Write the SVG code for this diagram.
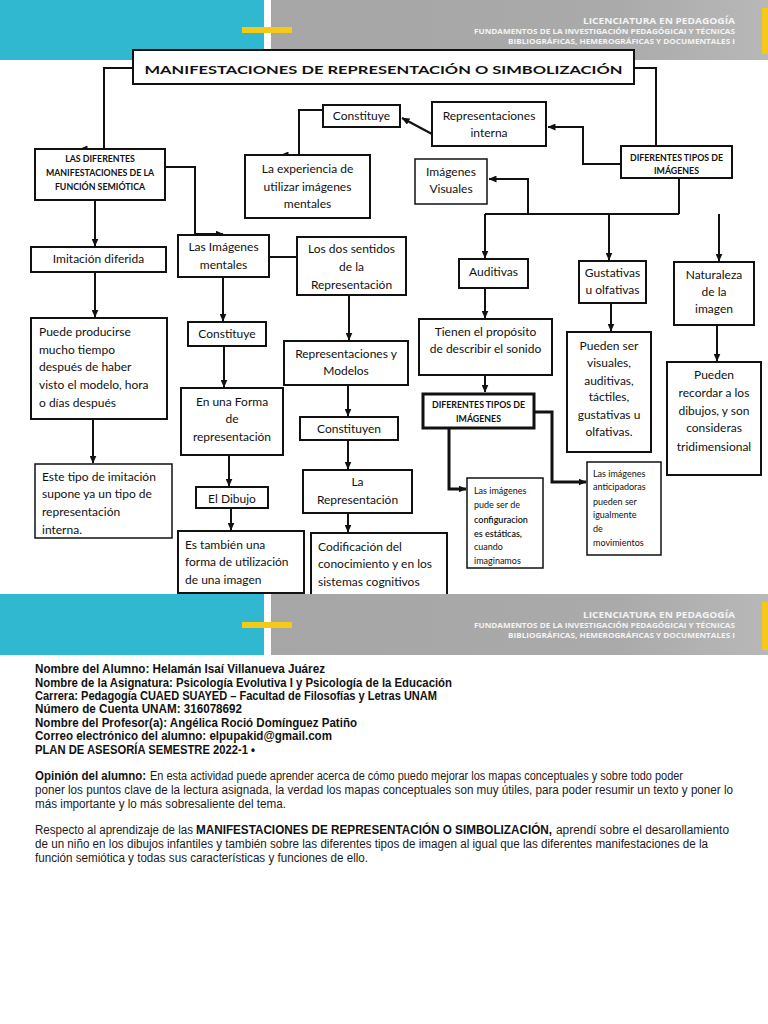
<svg xmlns="http://www.w3.org/2000/svg" width="768" height="1024" viewBox="0 0 768 1024">
<style>
.box{fill:#fff;stroke:#111;stroke-width:2}
.thin{fill:#fff;stroke:#111;stroke-width:1.5}
.thick{fill:#fff;stroke:#111;stroke-width:3}
.c{fill:none;stroke:#111;stroke-width:2}
.ct{fill:none;stroke:#111;stroke-width:3}
.t{font-family:Lato,"Open Sans",sans-serif;font-size:12px;fill:#111}
.m{text-anchor:middle}
.hb{font-family:Lato,"Open Sans",sans-serif;font-size:8.8px;font-weight:bold;fill:#111;text-anchor:middle}
.s{font-family:Lato,"Open Sans",sans-serif;font-size:9px;fill:#111}
.bn{font-family:"Open Sans",sans-serif;font-weight:bold;fill:#f4f4f4;text-anchor:end}
.ft{font-family:"Liberation Sans",Arial,sans-serif;font-size:12px;fill:#1a1a1a}
.fb{font-family:"Liberation Sans",Arial,sans-serif;font-size:12px;font-weight:bold;fill:#111}
</style>
<defs>
<marker id="ar" markerWidth="8" markerHeight="7" refX="7.5" refY="3.5" orient="auto" markerUnits="userSpaceOnUse"><path d="M0,0 L8,3.5 L0,7 z" fill="#111"/></marker>
<linearGradient id="gr" x1="0" y1="0" x2="1" y2="0"><stop offset="0" stop-color="#a6a6a6"/><stop offset="0.7" stop-color="#aaaaaa"/><stop offset="1" stop-color="#b8b8b8"/></linearGradient>
</defs>
<rect width="768" height="1024" fill="#fff"/>

<g id="banner-top">
<rect x="0" y="0" width="264" height="60" fill="#2fb8cf"/>
<rect x="271" y="0" width="497" height="60" fill="url(#gr)"/>
<rect x="242" y="27" width="50" height="6" fill="#f5c918"/>
<rect x="762" y="8" width="6" height="46" fill="#f5c918"/>
<text class="bn" x="735" y="24" font-size="9.5" textLength="152" lengthAdjust="spacingAndGlyphs">LICENCIATURA EN PEDAGOGÍA</text>
<text class="bn" x="735" y="34" font-size="7.4" textLength="261" lengthAdjust="spacingAndGlyphs">FUNDAMENTOS DE LA INVESTIGACIÓN PEDAGÓGICAI Y TÉCNICAS</text>
<text class="bn" x="735" y="44" font-size="7.4" textLength="227" lengthAdjust="spacingAndGlyphs">BIBLIOGRÁFICAS, HEMEROGRÁFICAS Y DOCUMENTALES I</text>
</g>

<g id="connectors">
<path class="c" d="M133,68 H104 V149 H80" marker-end="url(#ar)"/>
<path class="c" d="M634,68 H656 V148 H671" marker-end="url(#ar)"/>
<path class="c" d="M621,164 H583 V127 H548" marker-end="url(#ar)"/>
<path class="c" d="M432,134 L402,118" marker-end="url(#ar)"/>
<path class="c" d="M323,110 H299 V155 H281" marker-end="url(#ar)"/>
<path class="c" d="M679,178 V214 M485,214 H679"/>
<path class="c" d="M528,214 V179 H489" marker-end="url(#ar)"/>
<path class="c" d="M485,214 V258" marker-end="url(#ar)"/>
<path class="c" d="M609,214 V260" marker-end="url(#ar)"/>
<path class="c" d="M719,214 V261" marker-end="url(#ar)"/>
<path class="c" d="M485,288 V318" marker-end="url(#ar)"/>
<path class="c" d="M485,375 V392" marker-end="url(#ar)"/>
<path class="ct" d="M449,428 V489 H466" marker-end="url(#ar)"/>
<path class="ct" d="M534,412 H552 V482 H586" marker-end="url(#ar)"/>
<path class="c" d="M611,303 V331" marker-end="url(#ar)"/>
<path class="c" d="M717,325 V361" marker-end="url(#ar)"/>
<path class="c" d="M95,200 V246" marker-end="url(#ar)"/>
<path class="c" d="M165,167 H195 V234 H223" marker-end="url(#ar)"/>
<path class="c" d="M269,257 H297"/>
<path class="c" d="M95,272 V317" marker-end="url(#ar)"/>
<path class="c" d="M93,419 V463" marker-end="url(#ar)"/>
<path class="c" d="M223,277 V321" marker-end="url(#ar)"/>
<path class="c" d="M224,346 V387" marker-end="url(#ar)"/>
<path class="c" d="M229,455 V486" marker-end="url(#ar)"/>
<path class="c" d="M231,508 V530" marker-end="url(#ar)"/>
<path class="c" d="M349,295 V340" marker-end="url(#ar)"/>
<path class="c" d="M348,385 V416" marker-end="url(#ar)"/>
<path class="c" d="M348,440 V469" marker-end="url(#ar)"/>
<path class="c" d="M348,513 V532" marker-end="url(#ar)"/>
</g>

<g id="n-title">
<rect class="box" x="133" y="50" width="501" height="34"/>
<text class="t m" x="383.5" y="74" font-size="17.5" font-weight="bold" textLength="478" lengthAdjust="spacingAndGlyphs">MANIFESTACIONES DE REPRESENTACIÓN O SIMBOLIZACIÓN</text>
</g>
<g id="n-constituye1">
<rect class="box" x="323" y="105" width="77" height="22"/>
<text class="t m" x="361.5" y="120">Constituye</text>
</g>
<g id="n-rep-interna">
<rect class="box" x="432" y="102" width="114" height="44"/>
<text class="t m" x="489" y="120">Representaciones</text>
<text class="t m" x="489" y="137">interna</text>
</g>
<g id="n-experiencia">
<rect class="box" x="245" y="155" width="125" height="63"/>
<text class="t m" x="307.5" y="173">La experiencia de</text>
<text class="t m" x="307.5" y="191">utilizar imágenes</text>
<text class="t m" x="307.5" y="208">mentales</text>
</g>
<g id="n-img-visuales">
<rect class="thin" x="415" y="159" width="72" height="45"/>
<text class="t m" x="451" y="176">Imágenes</text>
<text class="t m" x="451" y="193">Visuales</text>
</g>
<g id="n-dif-tipos1">
<rect class="box" x="621" y="146" width="111" height="32"/>
<text class="hb" x="676.5" y="161">DIFERENTES TIPOS DE</text>
<text class="hb" x="676.5" y="174">IMÁGENES</text>
</g>
<g id="n-auditivas">
<rect class="box" x="459" y="259" width="69" height="29"/>
<text class="t m" x="493.5" y="276">Auditivas</text>
</g>
<g id="n-gustativas">
<rect class="box" x="579" y="261" width="67" height="42"/>
<text class="t m" x="612.5" y="277">Gustativas</text>
<text class="t m" x="612.5" y="294">u olfativas</text>
</g>
<g id="n-naturaleza">
<rect class="box" x="674" y="262" width="80" height="63"/>
<text class="t m" x="714" y="279">Naturaleza</text>
<text class="t m" x="714" y="296">de la</text>
<text class="t m" x="714" y="313">imagen</text>
</g>
<g id="n-tienen">
<rect class="box" x="419" y="319" width="133" height="56"/>
<text class="t m" x="485.5" y="336">Tienen el propósito</text>
<text class="t m" x="485.5" y="353">de describir el sonido</text>
</g>
<g id="n-dif-tipos2">
<rect class="thick" x="423" y="394" width="111" height="34"/>
<text class="hb" x="478.5" y="408">DIFERENTES TIPOS DE</text>
<text class="hb" x="478.5" y="422">IMÁGENES</text>
</g>
<g id="n-estaticas">
<rect class="thin" x="467" y="478" width="76" height="90"/>
<text class="s" x="474" y="494">Las imágenes</text>
<text class="s" x="474" y="508">pude ser de</text>
<text class="s" x="474" y="523" font-weight="600">configuracion</text>
<text class="s" x="474" y="537" font-weight="600">es estáticas,</text>
<text class="s" x="474" y="550">cuando</text>
<text class="s" x="474" y="564">imaginamos</text>
</g>
<g id="n-anticipadoras">
<rect class="thin" x="587" y="462" width="74" height="93"/>
<text class="s" x="593" y="477">Las imágenes</text>
<text class="s" x="593" y="490">anticipadoras</text>
<text class="s" x="593" y="505">pueden ser</text>
<text class="s" x="593" y="518">igualmente</text>
<text class="s" x="593" y="532">de</text>
<text class="s" x="593" y="546">movimientos</text>
</g>
<g id="n-pueden-ser">
<rect class="box" x="567" y="332" width="84" height="120"/>
<text class="t m" x="609" y="350">Pueden ser</text>
<text class="t m" x="609" y="367">visuales,</text>
<text class="t m" x="609" y="385">auditivas,</text>
<text class="t m" x="609" y="401">táctiles,</text>
<text class="t m" x="609" y="419">gustativas u</text>
<text class="t m" x="609" y="436">olfativas.</text>
</g>
<g id="n-pueden-recordar">
<rect class="box" x="667" y="362" width="94" height="113"/>
<text class="t m" x="714" y="379">Pueden</text>
<text class="t m" x="714" y="397">recordar a los</text>
<text class="t m" x="714" y="415">dibujos, y son</text>
<text class="t m" x="714" y="432">consideras</text>
<text class="t m" x="714" y="451">tridimensional</text>
</g>

<g id="n-las-diferentes">
<rect class="box" x="35" y="149" width="130" height="51"/>
<text class="hb" x="100" y="162">LAS DIFERENTES</text>
<text class="hb" x="100" y="176">MANIFESTACIONES DE LA</text>
<text class="hb" x="100" y="190">FUNCIÓN SEMIÓTICA</text>
</g>
<g id="n-imitacion">
<rect class="box" x="31" y="247" width="135" height="25"/>
<text class="t m" x="98.5" y="263">Imitación diferida</text>
</g>
<g id="n-imagenes-mentales">
<rect class="box" x="178" y="235" width="91" height="42"/>
<text class="t m" x="223.5" y="251">Las Imágenes</text>
<text class="t m" x="223.5" y="269">mentales</text>
</g>
<g id="n-dos-sentidos">
<rect class="box" x="297" y="237" width="109" height="58"/>
<text class="t m" x="351.5" y="253">Los dos sentidos</text>
<text class="t m" x="351.5" y="271">de la</text>
<text class="t m" x="351.5" y="289">Representación</text>
</g>
<g id="n-puede-producirse">
<rect class="box" x="31" y="318" width="136" height="101"/>
<text class="t" x="39" y="336">Puede producirse</text>
<text class="t" x="39" y="354">mucho tiempo</text>
<text class="t" x="39" y="371">después de haber</text>
<text class="t" x="39" y="389">visto el modelo, hora</text>
<text class="t" x="39" y="407">o días después</text>
</g>
<g id="n-este-tipo">
<rect class="thin" x="35" y="464" width="137" height="74"/>
<text class="t" x="42" y="481">Este tipo de imitación</text>
<text class="t" x="42" y="498">supone ya un tipo de</text>
<text class="t" x="42" y="516">representación</text>
<text class="t" x="42" y="534">interna.</text>
</g>
<g id="n-constituye2">
<rect class="box" x="188" y="322" width="78" height="24"/>
<text class="t m" x="227" y="338">Constituye</text>
</g>
<g id="n-en-una-forma">
<rect class="box" x="181" y="388" width="102" height="67"/>
<text class="t m" x="232" y="406">En una Forma</text>
<text class="t m" x="232" y="423">de</text>
<text class="t m" x="232" y="441">representación</text>
</g>
<g id="n-el-dibujo">
<rect class="box" x="196" y="487" width="72" height="21"/>
<text class="t m" x="232" y="503">El Dibujo</text>
</g>
<g id="n-es-tambien">
<rect class="box" x="178" y="531" width="126" height="62"/>
<text class="t" x="185" y="549">Es también una</text>
<text class="t" x="185" y="566">forma de utilización</text>
<text class="t" x="185" y="584">de una imagen</text>
</g>
<g id="n-rep-modelos">
<rect class="box" x="284" y="341" width="124" height="44"/>
<text class="t m" x="346" y="358">Representaciones y</text>
<text class="t m" x="346" y="375">Modelos</text>
</g>
<g id="n-constituyen">
<rect class="box" x="300" y="417" width="98" height="23"/>
<text class="t m" x="349" y="433">Constituyen</text>
</g>
<g id="n-la-representacion">
<rect class="box" x="303" y="470" width="109" height="43"/>
<text class="t m" x="357.5" y="486">La</text>
<text class="t m" x="357.5" y="504">Representación</text>
</g>
<g id="n-codificacion">
<rect class="box" x="311" y="533" width="136" height="70"/>
<text class="t" x="318" y="551">Codificación del</text>
<text class="t" x="318" y="568">conocimiento y en los</text>
<text class="t" x="318" y="586">sistemas cognitivos</text>
</g>

<g id="banner-bottom">
<rect x="0" y="594" width="264" height="61" fill="#2fb8cf"/>
<rect x="271" y="594" width="497" height="61" fill="url(#gr)"/>
<rect x="242" y="622" width="50" height="6" fill="#f5c918"/>
<rect x="762" y="602" width="6" height="48" fill="#f5c918"/>
<text class="bn" x="735" y="618" font-size="9.5" textLength="152" lengthAdjust="spacingAndGlyphs">LICENCIATURA EN PEDAGOGÍA</text>
<text class="bn" x="735" y="628" font-size="7.4" textLength="261" lengthAdjust="spacingAndGlyphs">FUNDAMENTOS DE LA INVESTIGACIÓN PEDAGÓGICAI Y TÉCNICAS</text>
<text class="bn" x="735" y="638" font-size="7.4" textLength="227" lengthAdjust="spacingAndGlyphs">BIBLIOGRÁFICAS, HEMEROGRÁFICAS Y DOCUMENTALES I</text>
</g>

<g id="info" xml:space="preserve">
<text class="fb" x="35" y="673" textLength="290" lengthAdjust="spacingAndGlyphs">Nombre del Alumno: Helamán Isaí Villanueva Juárez</text>
<text class="fb" x="35" y="687" textLength="417" lengthAdjust="spacingAndGlyphs">Nombre de la Asignatura: Psicología Evolutiva I y Psicología de la Educación</text>
<text class="fb" x="35" y="700" textLength="402" lengthAdjust="spacingAndGlyphs">Carrera: Pedagogía CUAED SUAYED  –  Facultad de Filosofías y Letras UNAM</text>
<text class="fb" x="35" y="713" textLength="207" lengthAdjust="spacingAndGlyphs">Número de Cuenta UNAM: 316078692</text>
<text class="fb" x="35" y="727" textLength="322" lengthAdjust="spacingAndGlyphs">Nombre del Profesor(a): Angélica Roció Domínguez Patiño</text>
<text class="fb" x="35" y="740" textLength="297" lengthAdjust="spacingAndGlyphs">Correo electrónico del alumno: elpupakid@gmail.com</text>
<text class="fb" x="35" y="754" textLength="220" lengthAdjust="spacingAndGlyphs">PLAN DE ASESORÍA SEMESTRE 2022-1 •</text>
<text class="fb" x="35" y="780" textLength="111" lengthAdjust="spacingAndGlyphs">Opinión del alumno:</text>
<text class="ft" x="150" y="780" textLength="533" lengthAdjust="spacingAndGlyphs">En esta actividad puede aprender acerca de cómo puedo mejorar los mapas conceptuales y sobre todo poder</text>
<text class="ft" x="35" y="794" textLength="698" lengthAdjust="spacingAndGlyphs">poner los puntos clave de la lectura asignada, la verdad los mapas conceptuales son muy útiles, para poder resumir un texto y poner lo</text>
<text class="ft" x="35" y="808" textLength="251" lengthAdjust="spacingAndGlyphs">más importante y lo más sobresaliente del tema.</text>
<text class="ft" x="35" y="834" textLength="158" lengthAdjust="spacingAndGlyphs">Respecto al aprendizaje de las</text>
<text class="fb" x="196" y="834" textLength="356" lengthAdjust="spacingAndGlyphs">MANIFESTACIONES DE REPRESENTACIÓN O SIMBOLIZACIÓN,</text>
<text class="ft" x="556" y="834" textLength="173" lengthAdjust="spacingAndGlyphs">aprendí sobre el  desarollamiento</text>
<text class="ft" x="35" y="848" textLength="673" lengthAdjust="spacingAndGlyphs">de un niño en los dibujos infantiles y también sobre las diferentes tipos de imagen al igual que las diferentes manifestaciones de la</text>
<text class="ft" x="35" y="862" textLength="333" lengthAdjust="spacingAndGlyphs">función semiótica y todas sus características y funciones de ello.</text>
</g>
</svg>
